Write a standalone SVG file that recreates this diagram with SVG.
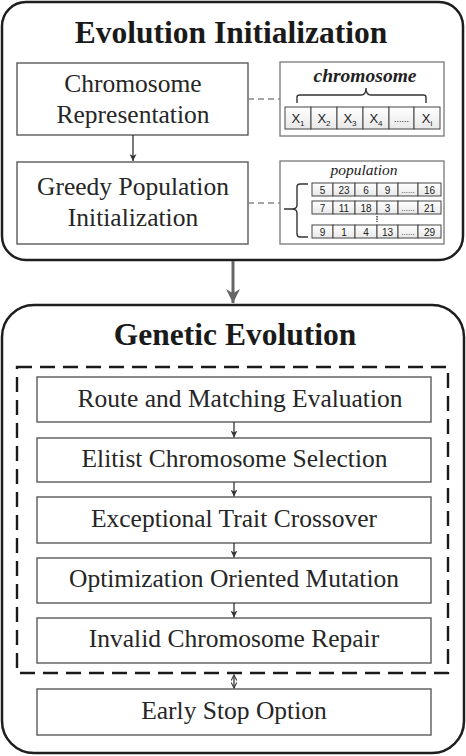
<svg xmlns="http://www.w3.org/2000/svg" width="466" height="756" viewBox="0 0 466 756">
<defs>
<style>
.outer{fill:#fff;stroke:#1e1e1e;stroke-width:2.5}
.box{fill:#fff;stroke:#5a5a5a;stroke-width:1.4}
.pane{fill:#fff;stroke:#777;stroke-width:1.3}
.cell{fill:url(#cg);stroke:#444;stroke-width:1}
.dash{stroke:#888;stroke-width:1.3;stroke-dasharray:6 4;fill:none}
.brace{fill:none;stroke:#333;stroke-width:1.4}
.arr{stroke:#333;stroke-width:1.3;fill:none}
.t{font-family:'Liberation Serif',serif;font-size:25.5px;fill:#262626;text-anchor:middle}
.title{font-family:'Liberation Serif',serif;font-size:31.5px;font-weight:bold;fill:#1a1a1a;text-anchor:middle}
.ct{font-family:'Liberation Sans',sans-serif;font-size:13px;fill:#222;text-anchor:middle}
.pt{font-family:'Liberation Sans',sans-serif;font-size:10px;fill:#222;text-anchor:middle}
</style>
<linearGradient id="cg" x1="0" y1="0" x2="0" y2="1">
<stop offset="0" stop-color="#ffffff"/>
<stop offset="1" stop-color="#e8e8e8"/>
</linearGradient>
<marker id="ah" viewBox="0 0 10 10" refX="10" refY="5" markerWidth="7" markerHeight="7" orient="auto-start-reverse" markerUnits="userSpaceOnUse">
<path d="M0,0 L10,5 L0,10 L3,5 Z" fill="#333"/>
</marker>
<marker id="ahg" viewBox="0 0 10 10" refX="10" refY="5" markerWidth="14" markerHeight="14" orient="auto" markerUnits="userSpaceOnUse">
<path d="M0,0 L10,5 L0,10 L3,5 Z" fill="#666"/>
</marker>
<marker id="aho" viewBox="0 0 10 10" refX="9" refY="5" markerWidth="7" markerHeight="7" orient="auto-start-reverse" markerUnits="userSpaceOnUse">
<path d="M1,1 L9,5 L1,9" fill="none" stroke="#333" stroke-width="1.5"/>
</marker>
</defs>
<rect width="466" height="756" fill="#fff"/>

<g id="evolution-initialization">
<rect class="outer" x="2" y="2" width="461" height="258" rx="24"/>
<text class="title" x="231" y="43">Evolution Initialization</text>
</g>

<g id="chromosome-representation">
<rect class="box" x="17" y="63" width="231" height="72"/>
<text class="t" x="133" y="92">Chromosome</text>
<text class="t" x="133" y="123">Representation</text>
</g>

<g id="greedy-population-initialization">
<rect class="box" x="17" y="162" width="231" height="82"/>
<text class="t" x="133" y="195">Greedy Population</text>
<text class="t" x="133" y="226">Initialization</text>
</g>

<g id="chromosome-panel">
<rect class="pane" x="280" y="62" width="164" height="74"/>
<text x="365" y="82" style="font-family:'Liberation Serif',serif" font-size="19.5" font-weight="bold" font-style="italic" fill="#222" text-anchor="middle">chromosome</text>
<path class="brace" d="M297,103 V97 Q297,95 300,95 H361 Q366,95 366,88 Q366,95 371,95 H423 Q426,95 426,97 V103"/>
<rect class="cell" x="285" y="107" width="26" height="22"/>
<rect class="cell" x="311" y="107" width="26" height="22"/>
<rect class="cell" x="337" y="107" width="26" height="22"/>
<rect class="cell" x="363" y="107" width="26" height="22"/>
<rect class="cell" x="389" y="107" width="25" height="22"/>
<rect class="cell" x="414" y="107" width="26" height="22"/>
<text class="ct" x="298" y="123">X<tspan font-size="8" dy="3">1</tspan></text>
<text class="ct" x="324" y="123">X<tspan font-size="8" dy="3">2</tspan></text>
<text class="ct" x="350" y="123">X<tspan font-size="8" dy="3">3</tspan></text>
<text class="ct" x="376" y="123">X<tspan font-size="8" dy="3">4</tspan></text>
<text class="ct" x="401.5" y="122" style="font-size:9px">......</text>
<text class="ct" x="427" y="123">X<tspan font-size="8" dy="3">i</tspan></text>
</g>

<g id="population-panel">
<rect class="pane" x="280" y="161" width="164" height="83"/>
<text x="364" y="175" style="font-family:'Liberation Serif',serif" font-size="15.5" font-style="italic" fill="#222" text-anchor="middle">population</text>
<path class="brace" d="M308,184 H300 Q297,184 297,187 V205 Q297,209 292,209 H284 M292,209 Q297,209 297,213 V234 Q297,237 300,237 H308"/>
<rect class="cell" x="312" y="183" width="21" height="13"/>
<rect class="cell" x="333" y="183" width="22" height="13"/>
<rect class="cell" x="355" y="183" width="22" height="13"/>
<rect class="cell" x="377" y="183" width="21" height="13"/>
<rect class="cell" x="398" y="183" width="20" height="13"/>
<rect class="cell" x="418" y="183" width="23" height="13"/>
<rect class="cell" x="312" y="201" width="21" height="13"/>
<rect class="cell" x="333" y="201" width="22" height="13"/>
<rect class="cell" x="355" y="201" width="22" height="13"/>
<rect class="cell" x="377" y="201" width="21" height="13"/>
<rect class="cell" x="398" y="201" width="20" height="13"/>
<rect class="cell" x="418" y="201" width="23" height="13"/>
<rect class="cell" x="312" y="225" width="21" height="13"/>
<rect class="cell" x="333" y="225" width="22" height="13"/>
<rect class="cell" x="355" y="225" width="22" height="13"/>
<rect class="cell" x="377" y="225" width="21" height="13"/>
<rect class="cell" x="398" y="225" width="20" height="13"/>
<rect class="cell" x="418" y="225" width="23" height="13"/>
<line x1="377" y1="216" x2="377" y2="222" stroke="#333" stroke-width="1.4" stroke-dasharray="1.5 1"/>
<text class="pt" x="322.5" y="193.5">5</text>
<text class="pt" x="344" y="193.5">23</text>
<text class="pt" x="366" y="193.5">6</text>
<text class="pt" x="387.5" y="193.5">9</text>
<text class="pt" x="408" y="192.5" style="font-size:8px">......</text>
<text class="pt" x="429.5" y="193.5">16</text>
<text class="pt" x="322.5" y="211.5">7</text>
<text class="pt" x="344" y="211.5">11</text>
<text class="pt" x="366" y="211.5">18</text>
<text class="pt" x="387.5" y="211.5">3</text>
<text class="pt" x="408" y="210.5" style="font-size:8px">......</text>
<text class="pt" x="429.5" y="211.5">21</text>
<text class="pt" x="322.5" y="235.5">9</text>
<text class="pt" x="344" y="235.5">1</text>
<text class="pt" x="366" y="235.5">4</text>
<text class="pt" x="387.5" y="235.5">13</text>
<text class="pt" x="408" y="234.5" style="font-size:8px">......</text>
<text class="pt" x="429.5" y="235.5">29</text>
</g>

<g id="genetic-evolution">
<rect class="outer" x="2" y="305" width="462" height="448" rx="32"/>
<text class="title" x="235" y="345">Genetic Evolution</text>
<rect x="17" y="367" width="431" height="306" fill="none" stroke="#1a1a1a" stroke-width="2.4" stroke-dasharray="15 8"/>
</g>

<g id="route-matching-evaluation">
<rect class="box" x="37" y="377" width="394" height="45"/>
<text class="t" x="240" y="407">Route and Matching Evaluation</text>
</g>
<g id="elitist-chromosome-selection">
<rect class="box" x="37" y="438" width="394" height="44"/>
<text class="t" x="234.5" y="467">Elitist Chromosome Selection</text>
</g>
<g id="exceptional-trait-crossover">
<rect class="box" x="37" y="497" width="394" height="46"/>
<text class="t" x="234" y="527">Exceptional Trait Crossover</text>
</g>
<g id="optimization-oriented-mutation">
<rect class="box" x="37" y="558" width="394" height="45"/>
<text class="t" x="234" y="587">Optimization Oriented Mutation</text>
</g>
<g id="invalid-chromosome-repair">
<rect class="box" x="37" y="618" width="394" height="45"/>
<text class="t" x="234" y="647">Invalid Chromosome Repair</text>
</g>
<g id="early-stop-option">
<rect class="box" x="37" y="689" width="394" height="46"/>
<text class="t" x="234" y="719">Early Stop Option</text>
</g>

<g id="connectors">
<line class="dash" x1="248" y1="99" x2="280" y2="99"/>
<line class="dash" x1="248" y1="203" x2="280" y2="203"/>
<line class="arr" x1="133" y1="135" x2="133" y2="161" marker-end="url(#ah)"/>
<line x1="233" y1="261" x2="233" y2="303" stroke="#666" stroke-width="3" marker-end="url(#ahg)"/>
<line class="arr" x1="234" y1="422" x2="234" y2="437.5" marker-end="url(#ah)"/>
<line class="arr" x1="234" y1="482" x2="234" y2="496.5" marker-end="url(#ah)"/>
<line class="arr" x1="234" y1="543" x2="234" y2="557.5" marker-end="url(#ah)"/>
<line class="arr" x1="234" y1="603" x2="234" y2="617.5" marker-end="url(#ah)"/>
<line class="arr" x1="234" y1="675" x2="234" y2="688" marker-start="url(#aho)" marker-end="url(#aho)"/>
</g>
</svg>
